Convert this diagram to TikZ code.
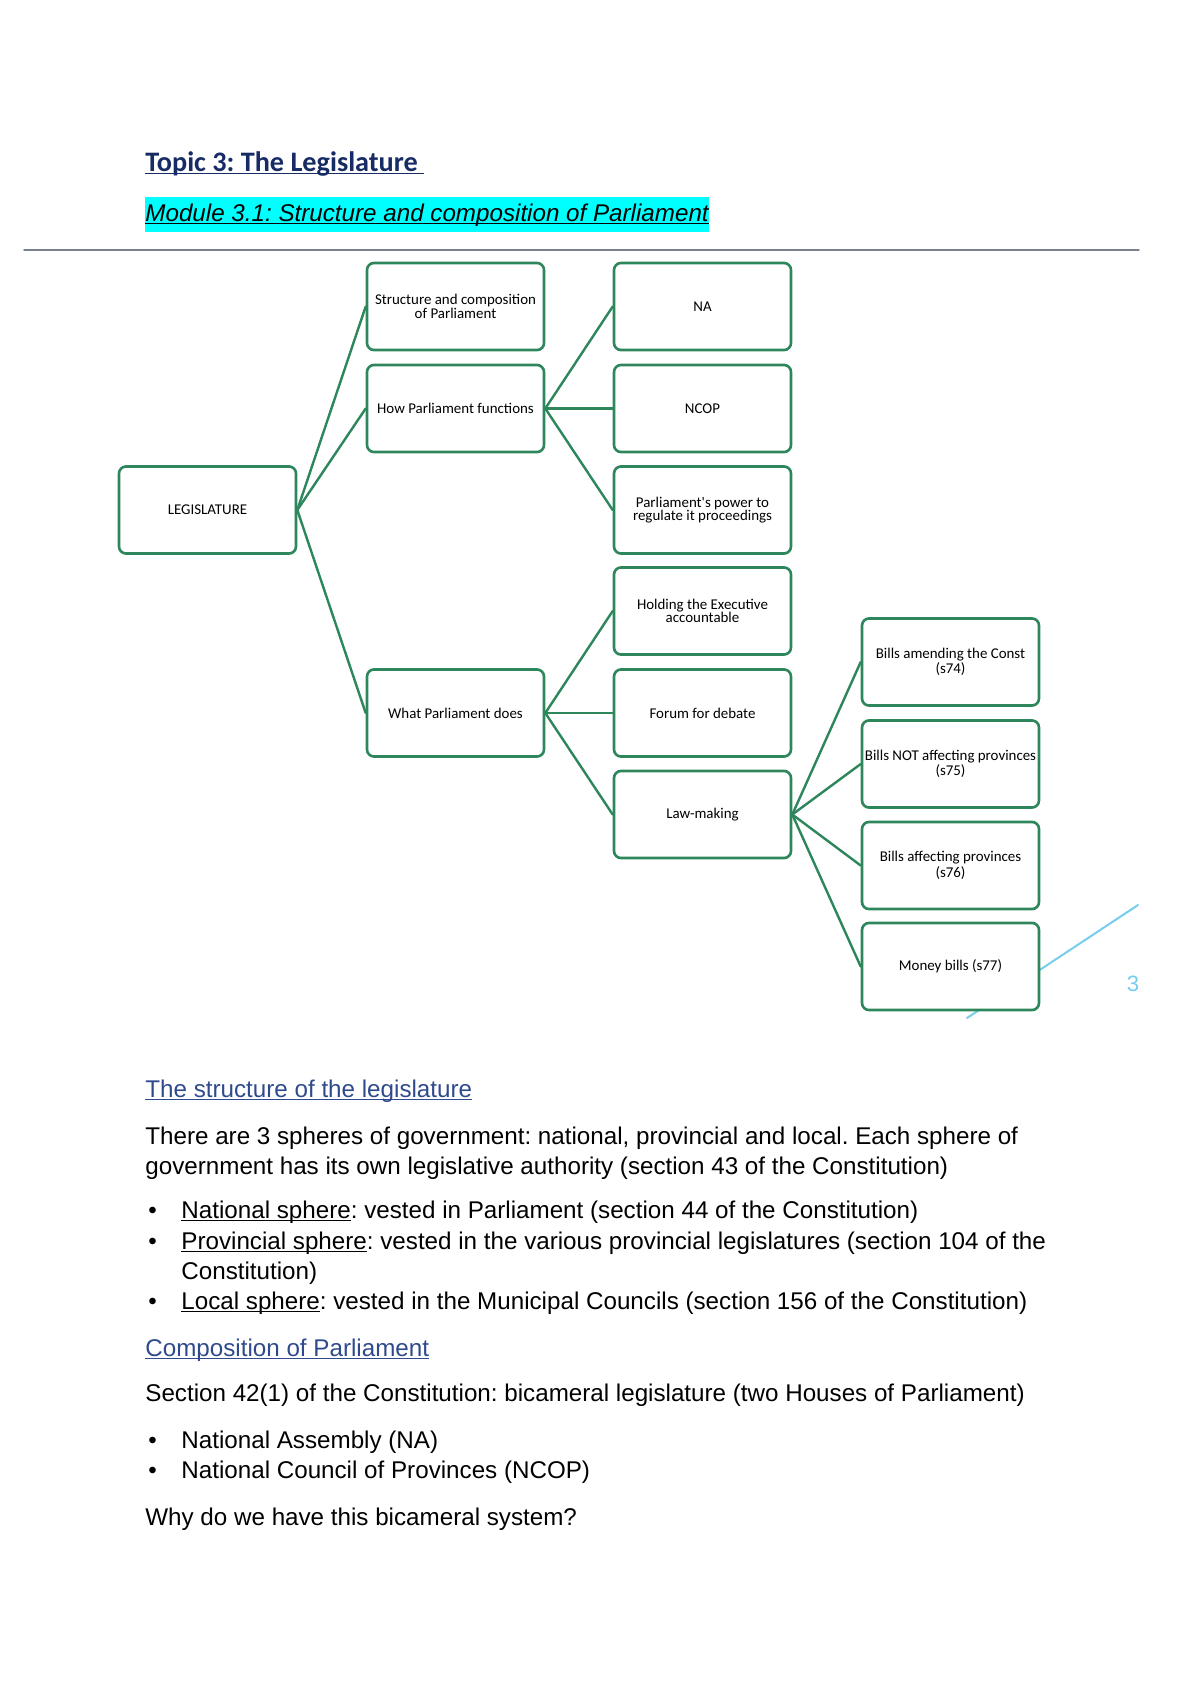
\documentclass[tikz,border=0pt]{standalone}
\usepackage{fontspec}
\setmainfont{Liberation Sans}
\newfontfamily\calibri{Carlito}
\definecolor{leafgreen}{RGB}{46,135,92}
\definecolor{topicnavy}{RGB}{23,43,100}
\definecolor{headblue}{RGB}{47,74,140}
\definecolor{aqua}{RGB}{0,255,255}
\definecolor{paleblue}{RGB}{120,205,238}
\definecolor{rulegray}{RGB}{120,128,140}
\newcommand\uln[1]{\underline{\smash{#1}}}
\frenchspacing
\begin{document}
\begin{tikzpicture}[x=0.49607pt,y=-0.49607pt,line join=round,line cap=round,
  box/.style={draw=leafgreen,fill=white,line width=1.3pt,rounded corners=3.5pt,minimum width=87.8pt,minimum height=43.2pt,inner sep=1pt,align=center,font=\calibri\fontsize{7.4}{6.6}\selectfont},
  link/.style={draw=leafgreen,line width=1.2pt},
  body/.style={anchor=base west,inner sep=0pt,font=\fontsize{12}{15}\selectfont}]
\useasboundingbox (0,0) rectangle (1200,1698);
% headings
\node[body,font=\calibri\bfseries\fontsize{14}{17}\selectfont,text=topicnavy] (topic) at (145,171) {\uln{Topic 3: The Legislature\ }};
\node[body,fill=aqua,inner ysep=1.2pt,font=\itshape\fontsize{12}{15}\selectfont] (module) at (145,221) {\uln{Module 3.1: Structure and composition of Parliament}\strut};
\draw[rulegray,line width=0.7pt] (24,250)--(1139,250);
% page edge line, behind the boxes
\coordinate (edgeA) at (1138,905);
\coordinate (edgeB) at (967,1018);
\draw[paleblue,line width=1pt] (edgeA)--(edgeB);
\node[text=paleblue,font=\fontsize{11}{13}\selectfont] (pagenum) at (1133,984) {3};
% diagram
\node[box] (leg) at (207.5,510) {LEGISLATURE};
\node[box] (structure) at (455.5,306.5) {Structure and composition\\of Parliament};
\node[box] (functions) at (455.5,408.5) {How Parliament functions};
\node[box] (does) at (455.5,713) {What Parliament does};
\node[box] (na) at (702.5,306.5) {NA};
\node[box] (ncop) at (702.5,408.5) {NCOP};
\node[box] (power) at (702.5,510) {Parliament's power to\\regulate it proceedings};
\node[box] (holding) at (702.5,611) {Holding the Executive\\accountable};
\node[box] (forum) at (702.5,713) {Forum for debate};
\node[box] (lawmaking) at (702.5,814.5) {Law-making};
\node[box] (amend) at (950.5,662) {Bills amending the Const\\(s74)};
\node[box] (notprov) at (950.5,764) {Bills NOT affecting provinces\\(s75)};
\node[box] (affprov) at (950.5,865.5) {Bills affecting provinces\\(s76)};
\node[box] (money) at (950.5,966.5) {Money bills (s77)};
\draw[link] (leg.east)--(structure.west);
\draw[link] (leg.east)--(functions.west);
\draw[link] (leg.east)--(does.west);
\draw[link] (functions.east)--(na.west);
\draw[link] (functions.east)--(ncop.west);
\draw[link] (functions.east)--(power.west);
\draw[link] (does.east)--(holding.west);
\draw[link] (does.east)--(forum.west);
\draw[link] (does.east)--(lawmaking.west);
\draw[link] (lawmaking.east)--(amend.west);
\draw[link] (lawmaking.east)--(notprov.west);
\draw[link] (lawmaking.east)--(affprov.west);
\draw[link] (lawmaking.east)--(money.west);
% text below
\node[body,text=headblue] (structhead) at (145,1097) {\uln{The structure of the legislature}};
\node[body] (para1) at (145,1144) {There are 3 spheres of government: national, provincial and local. Each sphere of};
\node[body] (para2) at (145,1174) {government has its own legislative authority (section 43 of the Constitution)};
\node[body] (dot1) at (148,1218) {\textbullet};
\node[body] (item1) at (181,1218) {\uln{National sphere}: vested in Parliament (section 44 of the Constitution)};
\node[body] (dot2) at (148,1249) {\textbullet};
\node[body] (item2) at (181,1249) {\uln{Provincial sphere}: vested in the various provincial legislatures (section 104 of the};
\node[body] (item2b) at (181,1279) {Constitution)};
\node[body] (dot3) at (148,1309) {\textbullet};
\node[body] (item3) at (181,1309) {\uln{Local sphere}: vested in the Municipal Councils (section 156 of the Constitution)};
\node[body,text=headblue] (comphead) at (145,1356) {\uln{Composition of Parliament}};
\node[body] (section) at (145,1401) {Section 42(1) of the Constitution: bicameral legislature (two Houses of Parliament)};
\node[body] (dot4) at (148,1448) {\textbullet};
\node[body] (house1) at (181,1448) {National Assembly (NA)};
\node[body] (dot5) at (148,1478) {\textbullet};
\node[body] (house2) at (181,1478) {National Council of Provinces (NCOP)};
\node[body] (why) at (145,1525) {Why do we have this bicameral system?};
\end{tikzpicture}
\end{document}
